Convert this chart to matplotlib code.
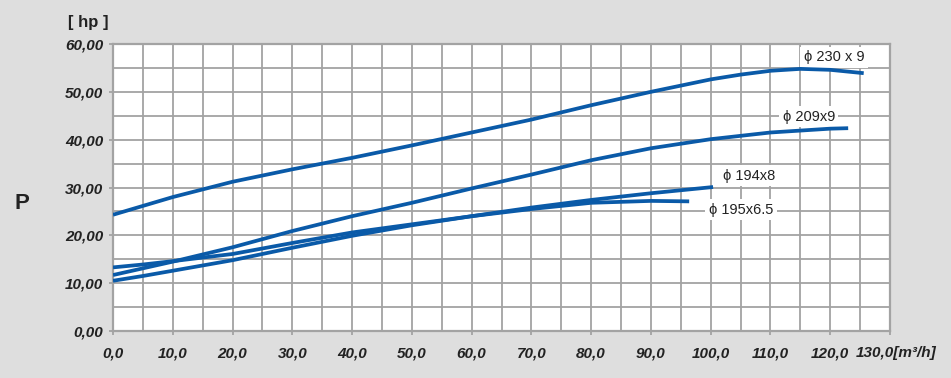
import matplotlib
matplotlib.use("Agg")
import matplotlib.pyplot as plt
from matplotlib.ticker import MultipleLocator, FixedLocator

plt.rcParams['font.family'] = ['Liberation Sans', 'DejaVu Sans']

# ---- data ----
x_230 = [0, 10, 20, 30, 40, 50, 60, 70, 80, 90, 100, 105, 110, 115, 120, 125.6]
p_230 = [24.3, 28.0, 31.2, 33.8, 36.2, 38.8, 41.5, 44.2, 47.2, 50.0, 52.6, 53.6, 54.4, 54.8, 54.6, 53.9]

x_209 = [0, 10, 20, 30, 40, 50, 60, 70, 80, 90, 100, 110, 120, 123]
p_209 = [11.7, 14.5, 17.5, 20.9, 24.0, 26.8, 29.8, 32.7, 35.7, 38.2, 40.1, 41.5, 42.3, 42.4]

x_194 = [0, 5, 10, 20, 30, 40, 50, 60, 70, 80, 90, 100.4]
p_194 = [10.5, 11.5, 12.6, 14.8, 17.4, 19.9, 22.1, 24.0, 25.8, 27.4, 28.8, 30.1]

x_195 = [0, 5, 10, 20, 30, 40, 50, 60, 70, 80, 90, 96.4]
p_195 = [13.3, 13.9, 14.6, 16.1, 18.4, 20.6, 22.3, 24.0, 25.5, 26.8, 27.2, 27.1]

series_labels = ["\u03d5 230 x 9", "\u03d5 209x9", "\u03d5 194x8", "\u03d5 195x6.5"]
label_pos = [(120.6, 57.2), (116.4, 44.8), (106.4, 32.5), (105.1, 25.3)]

x_ticks = [0, 10, 20, 30, 40, 50, 60, 70, 80, 90, 100, 110, 120, 130]
x_tick_labels = ["0,0", "10,0", "20,0", "30,0", "40,0", "50,0", "60,0", "70,0",
                 "80,0", "90,0", "100,0", "110,0", "120,0", ""]
y_ticks = [0, 10, 20, 30, 40, 50, 60]
y_tick_labels = ["0,00", "10,00", "20,00", "30,00", "40,00", "50,00", "60,00"]
last_x_label = "130,0[m\u00b3/h]"

# ---- styling ----
bg = "#dedede"
grid_c = "#a3a3a3"
line_c = "#0a5aa8"
text_c = "#222222"
tick_fs = 11

fig = plt.figure(figsize=(9.51, 3.78), dpi=100, facecolor=bg)
ax = fig.add_axes([113/951, 1-331/378, (890-113)/951, (331-44)/378])
ax.set_facecolor("white")

ax.set_xlim(0, 130)
ax.set_ylim(0, 60)

ax.xaxis.set_major_locator(FixedLocator(x_ticks))
ax.yaxis.set_major_locator(FixedLocator(y_ticks))
ax.xaxis.set_minor_locator(MultipleLocator(5))
ax.yaxis.set_minor_locator(MultipleLocator(5))
ax.grid(which='both', color=grid_c, linewidth=1.3)
ax.set_axisbelow(True)
ax.tick_params(which='major', length=3, width=1.3, color=grid_c)
ax.tick_params(axis='x', which='major', pad=8)
ax.tick_params(axis='y', which='major', pad=4)
ax.tick_params(which='minor', length=0)
for s in ax.spines.values():
    s.set_color(grid_c)
    s.set_linewidth(1.6)

ax.set_xticklabels(x_tick_labels, fontsize=tick_fs, fontweight='bold', fontstyle='italic', color=text_c)
ax.set_yticklabels(y_tick_labels, fontsize=tick_fs, fontweight='bold', fontstyle='italic', color=text_c)

for xs, ps in [(x_230, p_230), (x_209, p_209), (x_194, p_194), (x_195, p_195)]:
    ax.plot(xs, ps, color=line_c, linewidth=2.7, solid_capstyle='butt', zorder=3)

for lab, (lx, ly) in zip(series_labels, label_pos):
    ax.text(lx, ly, lab, fontsize=10.5, color=text_c, ha='center', va='center', zorder=2,
            bbox=dict(facecolor='white', edgecolor='none', pad=2.5))

ax.annotate(last_x_label, xy=(124.3, 0), xycoords=('data', 'axes fraction'),
            xytext=(0, -11), textcoords='offset points',
            fontsize=tick_fs, fontweight='bold', fontstyle='italic',
            color=text_c, ha='left', va='top', annotation_clip=False)

fig.text(88/951, 1-22/378, "[ hp ]", fontsize=12, fontweight='bold', color=text_c,
         ha='center', va='center')
fig.text(22/951, 1-203/378, "P", fontsize=16, fontweight='bold', color=text_c,
         ha='center', va='center')

fig.savefig("out.png", dpi=100, facecolor=bg)
